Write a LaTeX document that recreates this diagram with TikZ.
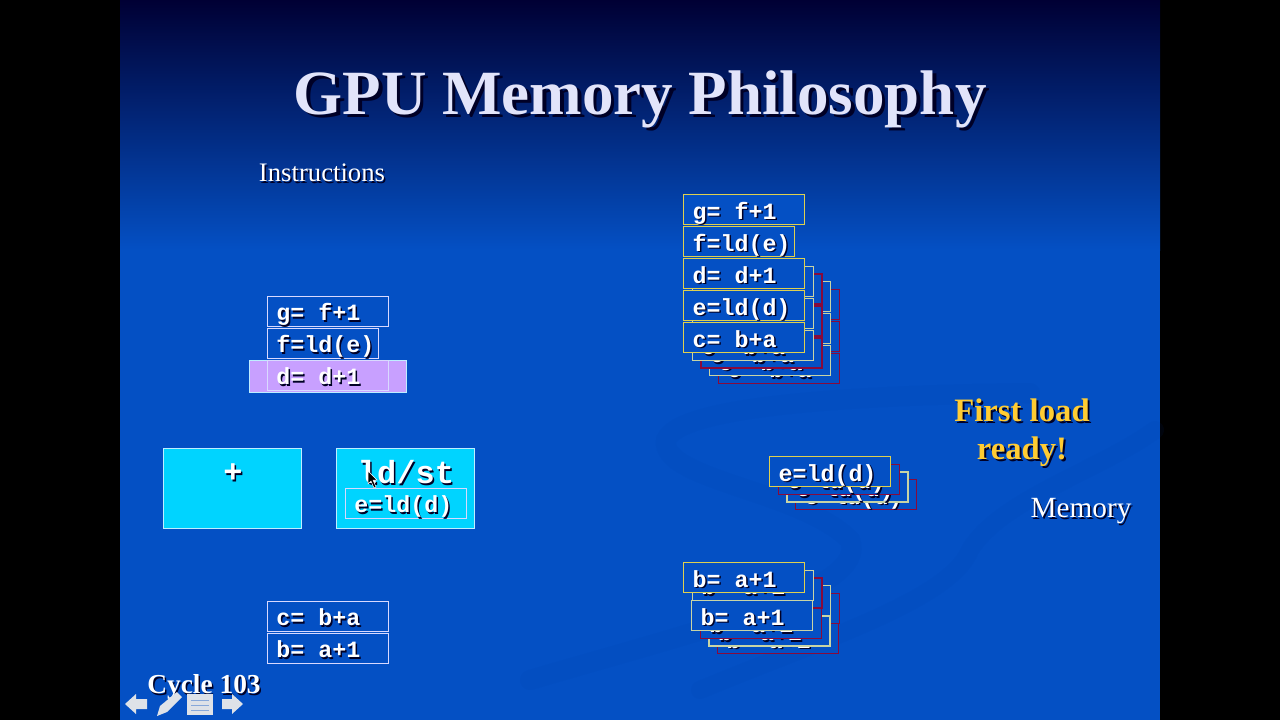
\documentclass[tikz,border=0pt]{standalone}
\usepackage{fontspec}
\setmainfont{Liberation Serif}
\setmonofont{Liberation Mono}

\definecolor{slideblue}{RGB}{4,80,196}
\definecolor{slidenavy}{RGB}{0,0,52}
\definecolor{swirlblue}{RGB}{0,62,170}
\definecolor{unitcyan}{RGB}{0,212,255}
\definecolor{unitedge}{RGB}{190,238,255}
\definecolor{firepurple}{RGB}{200,160,255}
\definecolor{memgold}{RGB}{222,208,80}
\definecolor{mempale}{RGB}{200,212,165}
\definecolor{memred}{RGB}{135,10,60}
\definecolor{titletint}{RGB}{226,228,250}
\definecolor{loadgold}{RGB}{255,204,51}
\definecolor{iconpale}{RGB}{222,226,232}

\newcommand{\shadowed}[2]{\leavevmode\rlap{\kern#1pt\raisebox{-#1pt}{\color{black!85!blue}#2}}#2}

\tikzset{
	instbox/.style = {draw = white!85!blue, line width = 0.9pt, anchor = north west,
					  minimum width = 121pt, minimum height = 30pt, inner xsep = 9pt,
					  inner ysep = 0pt, text width = 103pt, align = flush left, text = white,
					  text height = 21pt, text depth = 2pt,
					  font = \fontsize{23.3}{23}\selectfont\ttfamily\bfseries},
	shortbox/.style = {instbox, minimum width = 111pt, text width = 93pt},
	membox/.style = {instbox, fill = slideblue, line width = 1.2pt},
	frontbox/.style = {membox, draw = memgold},
	unitbox/.style = {draw = unitedge, fill = unitcyan, line width = 1pt, anchor = north west,
					  minimum width = 138pt, minimum height = 79.5pt},
	unitname/.style = {text = white, font = \fontsize{32}{32}\selectfont\ttfamily\bfseries},
	slidetext/.style = {text = white},
	navicon/.style = {fill = iconpale, draw = none}
}

% shadow copies behind a memory instruction
\newcommand{\memstack}[5]{%
	\foreach \i/\edge in {#4} {
		\pgfmathsetmacro{\sx}{#2 + 8.7*\i}
		\pgfmathsetmacro{\sy}{#3 + 7.7*\i}
		\draw (\sx,\sy) node[membox, draw = \edge] (#1\i) {\shadowed{1.5}{#5}};
	}
}

\begin{document}
\begin{tikzpicture}[x=1pt, y=-1pt]

	\useasboundingbox (0,0) rectangle (1280,720);
	\fill[black] (0,0) rectangle (1280,720);
	\shade[top color = slidenavy, bottom color = slideblue] (120,0) rectangle (1160,250);
	\fill[slideblue] (120,250) rectangle (1160,720);

	% faint swirl
	\draw[swirlblue, line width = 20pt, opacity = 0.09, line cap = round]
		(1030,393) .. controls (860,395) and (680,405) .. (666,440)
		.. controls (660,480) and (800,490) .. (850,540)
		.. controls (870,590) and (700,630) .. (530,680);
	\draw[swirlblue, line width = 18pt, opacity = 0.08, line cap = round]
		(1155,430) .. controls (1100,470) and (1000,500) .. (970,550)
		.. controls (950,600) and (820,640) .. (700,690);

	\draw (640,101) node[text = titletint, font = \fontsize{63}{63}\selectfont\bfseries] (title)
		{\shadowed{3.5}{GPU Memory Philosophy}};
	\draw (322,174) node[slidetext, font = \fontsize{26.7}{27}\selectfont] (instructions) {\shadowed{1.5}{Instructions}};
	\draw (1081,512) node[slidetext, font = \fontsize{29.3}{30}\selectfont] (memory) {\shadowed{1.5}{Memory}};
	\draw (1022,434) node[text = loadgold, align = center,
					 font = \fontsize{32.7}{38}\selectfont\bfseries] (ready)
		{\shadowed{2}{First load}\\\shadowed{2}{ready!}};

	% instructions still waiting
	\draw (267,296) node[instbox] (g) {\shadowed{1.5}{g= f+1}};
	\draw (267,328) node[shortbox] (f) {\shadowed{1.5}{f=ld(e)}};
	\draw (249,360) node[draw = unitedge, fill = firepurple, line width = 1pt, anchor = north west,
					 minimum width = 157pt, minimum height = 32pt] (fire) {};
	\draw (267,360) node[instbox] (d) {\shadowed{1.5}{d= d+1}};
	\draw (267,601) node[instbox] (c) {\shadowed{1.5}{c= b+a}};
	\draw (267,633) node[instbox] (b) {\shadowed{1.5}{b= a+1}};

	% functional units
	\draw (163,448) node[unitbox] (adder) {};
	\draw (336,448) node[unitbox] (loadstore) {};
	\draw (233,474) node[unitname] (addername) {\shadowed{1.5}{+}};
	\draw (406,473) node[unitname] (loadname) {\shadowed{1.5}{ld/st}};
	\draw (345,488) node[instbox] (busy) {\shadowed{1.5}{e=ld(d)}};

	% memory, upper stack
	\draw (683,194) node[frontbox] (memg) {\shadowed{1.5}{g= f+1}};
	\draw (683,226) node[frontbox, minimum width = 111pt, text width = 93pt] (memf) {\shadowed{1.5}{f=ld(e)}};
	\memstack{memd}{683}{258}{4/memred,3/mempale,2/memred,1/mempale}{}
	\draw (683,258) node[frontbox] (memdfront) {\shadowed{1.5}{d= d+1}};
	\memstack{meme}{683}{290}{4/memred,3/mempale,2/memred,1/mempale}{}
	\draw (683,290) node[frontbox] (memefront) {\shadowed{1.5}{e=ld(d)}};
	\memstack{memc}{683}{322}{4/memred,3/mempale,2/memred,1/mempale}{c= b+a}
	\draw (683,322) node[frontbox] (memcfront) {\shadowed{1.5}{c= b+a}};

	% memory, middle stack
	\memstack{memload}{769}{456}{3/memred,2/mempale,1/memred}{e=ld(d)}
	\draw (769,456) node[frontbox] (memloadfront) {\shadowed{1.5}{e=ld(d)}};

	% memory, lower stack
	\memstack{memb}{683}{562}{4/memred,3/mempale,2/memred,1/mempale}{b= a+1}
	\draw (683,562) node[frontbox] (membfront) {\shadowed{1.5}{b= a+1}};
	\memstack{memnext}{691}{600}{3/memred,2/mempale,1/memred}{b= a+1}
	\draw (691,600) node[frontbox, draw = mempale] (memnextfront) {\shadowed{1.5}{b= a+1}};

	\draw (204,688) node[text = white, font = \fontsize{27.4}{28}\selectfont\bfseries] (cycle)
		{\shadowed{1.5}{Cycle 103}};

	% slide show buttons
	\fill[navicon] (125,704) -- (136,694) -- (136,699) -- (147,699) -- (147,709) -- (136,709) -- (136,714) -- cycle;
	\fill[navicon] (157,716) -- (160,706) -- (177,692) -- (182,697) -- (167,712) -- cycle;
	\fill[navicon] (187,694) rectangle (213,715);
	\draw[slideblue!40!iconpale, line width = 1pt] (191,700) -- (209,700) (191,705) -- (209,705) (191,710) -- (209,710);
	\fill[navicon] (243,704) -- (232,694) -- (232,699) -- (222,699) -- (222,709) -- (232,709) -- (232,714) -- cycle;

	% mouse pointer
	\fill[black, draw = white, line width = 0.5pt] (368,471) -- (368,484) -- (371,481) -- (374,488)
		-- (376,487) -- (373,480) -- (377,480) -- cycle;
\end{tikzpicture}
\end{document}
